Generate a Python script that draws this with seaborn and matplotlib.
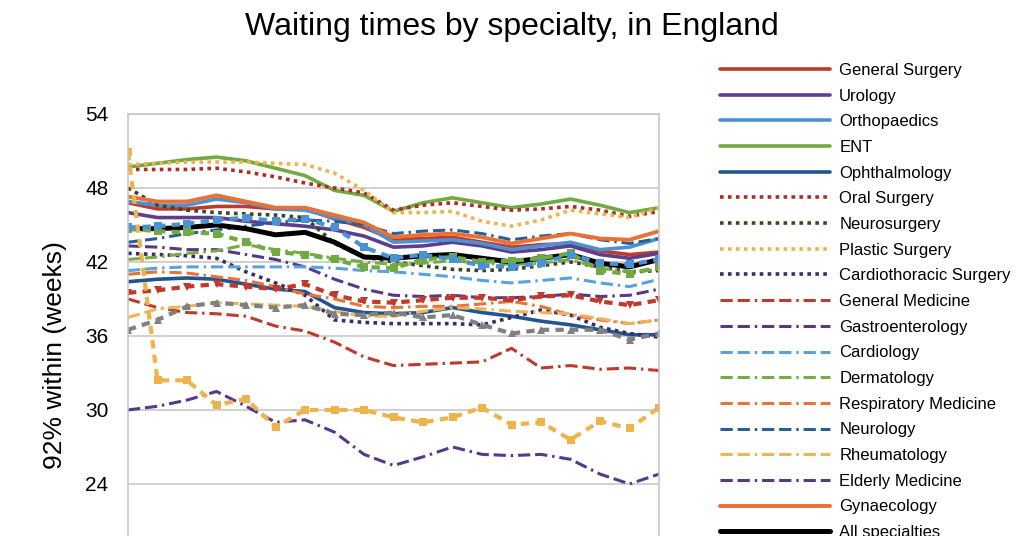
import numpy as np
import matplotlib
matplotlib.use("Agg")
import matplotlib.pyplot as plt
import seaborn as sns

# 19 reporting periods (x labels are cut off in the source image)
periods = np.arange(19)

general_surgery = [46.8, 46.3, 46.3, 46.5, 46.5, 46.3, 46.3, 45.5, 44.8, 43.8, 43.9, 44.0, 43.6, 43.2, 43.4, 43.5, 42.9, 42.6, 42.8]
urology = [46.0, 45.6, 45.6, 45.6, 45.3, 45.1, 44.9, 44.6, 44.1, 43.2, 43.3, 43.6, 43.3, 42.8, 43.0, 43.3, 42.6, 42.3, 42.7]
orthopaedics = [46.9, 46.6, 46.6, 47.1, 46.8, 46.3, 46.2, 45.6, 45.0, 43.6, 43.7, 43.8, 43.5, 43.0, 43.3, 43.6, 43.0, 43.2, 43.9]
ent = [49.7, 50.0, 50.3, 50.5, 50.2, 49.6, 49.0, 47.8, 47.4, 46.1, 46.8, 47.2, 46.8, 46.4, 46.7, 47.1, 46.6, 46.0, 46.4]
ophthalmology = [40.4, 40.6, 40.7, 40.6, 40.2, 39.8, 39.6, 38.3, 37.9, 37.8, 37.9, 38.3, 37.9, 37.6, 37.2, 36.9, 36.5, 36.1, 36.1]
oral_surgery = [49.5, 49.5, 49.5, 49.6, 49.3, 48.9, 48.4, 48.0, 47.6, 46.2, 46.6, 46.8, 46.5, 46.2, 46.3, 46.5, 46.2, 45.7, 46.1]
neurosurgery = [48.0, 46.6, 46.2, 46.0, 45.9, 45.8, 45.6, 43.5, 42.4, 42.0, 41.7, 41.4, 41.3, 41.4, 41.7, 42.0, 41.6, 41.2, 41.3]
plastic_surgery = [49.9, 50.0, 50.1, 50.1, 50.1, 50.0, 49.9, 49.2, 47.8, 46.0, 46.0, 46.1, 45.3, 44.9, 45.4, 46.2, 45.9, 45.6, 46.4]
cardiothoracic = [42.7, 42.6, 42.5, 42.3, 41.2, 40.3, 39.3, 37.3, 37.1, 37.0, 37.0, 37.0, 36.9, 37.5, 38.1, 37.7, 36.7, 36.2, 35.9]
general_medicine = [39.0, 38.3, 37.9, 37.8, 37.6, 36.8, 36.4, 35.5, 34.3, 33.6, 33.7, 33.8, 33.9, 35.0, 33.4, 33.6, 33.3, 33.4, 33.2]
gastroenterology = [43.3, 43.2, 43.0, 43.0, 42.6, 42.2, 41.6, 40.6, 39.8, 39.3, 39.2, 39.3, 39.1, 39.1, 39.2, 39.4, 39.2, 39.3, 39.8]
cardiology = [41.3, 41.5, 41.6, 41.6, 41.6, 41.6, 41.6, 41.5, 41.3, 41.2, 41.0, 40.8, 40.5, 40.3, 40.5, 40.7, 40.3, 40.0, 40.6]
dermatology = [42.2, 42.4, 42.7, 42.9, 43.4, 43.0, 42.7, 42.3, 42.0, 41.8, 41.9, 42.1, 41.9, 41.8, 41.9, 42.2, 41.5, 41.2, 41.4]
respiratory = [41.0, 41.2, 41.1, 40.8, 40.5, 40.0, 39.4, 39.0, 38.4, 38.3, 38.4, 38.4, 38.6, 38.8, 38.4, 37.7, 37.3, 37.0, 37.3]
neurology = [43.6, 43.9, 44.3, 44.6, 44.9, 45.2, 45.4, 45.3, 45.0, 44.3, 44.5, 44.6, 44.3, 43.8, 44.1, 44.3, 43.8, 43.5, 43.9]
rheumatology = [37.5, 38.2, 38.4, 38.7, 38.6, 38.5, 38.4, 38.0, 37.6, 37.6, 38.0, 38.3, 38.2, 38.0, 37.9, 37.8, 37.4, 37.0, 37.3]
elderly_medicine = [30.0, 30.3, 30.8, 31.5, 30.3, 29.0, 29.2, 28.2, 26.4, 25.5, 26.2, 27.0, 26.4, 26.3, 26.4, 26.0, 24.8, 24.0, 24.8]
gynaecology = [47.3, 46.9, 46.9, 47.4, 46.9, 46.4, 46.4, 45.8, 45.2, 44.0, 44.2, 44.3, 44.0, 43.5, 43.9, 44.3, 43.9, 43.8, 44.5]
all_specialties = [44.7, 44.7, 44.8, 45.0, 44.7, 44.2, 44.4, 43.6, 42.4, 42.3, 42.5, 42.6, 42.3, 42.0, 42.3, 42.6, 41.9, 41.6, 42.2]

# series with markers whose legend entries fall below the visible area
extra_red = [39.5, 39.7, 40.0, 40.2, 40.0, 39.8, 40.2, 39.3, 38.8, 38.7, 38.9, 39.1, 39.1, 38.9, 39.2, 39.3, 38.8, 38.5, 38.9]
extra_green = [44.7, 44.5, 44.4, 44.3, 43.6, 42.8, 42.6, 42.2, 41.6, 41.5, 42.2, 42.4, 42.0, 42.1, 42.3, 42.7, 41.3, 41.0, 41.6]
extra_blue = [44.8, 44.9, 45.1, 45.4, 45.6, 45.3, 45.5, 44.8, 43.2, 42.3, 42.6, 42.2, 41.7, 41.6, 41.9, 42.6, 41.9, 41.8, 42.2]
extra_grey = [36.5, 37.3, 38.4, 38.7, 38.5, 38.3, 38.5, 37.8, 37.7, 37.9, 37.5, 37.7, 36.9, 36.2, 36.5, 36.5, 36.5, 35.7, 36.2]
extra_orange = [50.9, 32.4, 32.4, 30.4, 30.9, 28.6, 30.0, 30.0, 30.0, 29.4, 29.0, 29.4, 30.2, 28.8, 29.0, 27.6, 29.1, 28.5, 30.2]

SOLID = "-"
DOT = (0, (1, 1.2))
DASHDOT = (0, (4, 1.6, 4, 1.6, 0.8, 1.6))

# label, values, colour, style, width
series = [
    ("General Surgery", general_surgery, "#c0392b", SOLID, 2.6),
    ("Urology", urology, "#5e3c8e", SOLID, 2.6),
    ("Orthopaedics", orthopaedics, "#4a93d3", SOLID, 2.6),
    ("ENT", ent, "#70aa40", SOLID, 2.6),
    ("Ophthalmology", ophthalmology, "#21558f", SOLID, 2.6),
    ("Oral Surgery", oral_surgery, "#b02a2a", DOT, 2.6),
    ("Neurosurgery", neurosurgery, "#3a4624", DOT, 2.6),
    ("Plastic Surgery", plastic_surgery, "#f0b24a", DOT, 2.6),
    ("Cardiothoracic Surgery", cardiothoracic, "#3b2b6b", DOT, 2.6),
    ("General Medicine", general_medicine, "#c0392b", DASHDOT, 2.2),
    ("Gastroenterology", gastroenterology, "#553a8a", DASHDOT, 2.2),
    ("Cardiology", cardiology, "#5aa2dc", DASHDOT, 2.2),
    ("Dermatology", dermatology, "#76ac42", DASHDOT, 2.2),
    ("Respiratory Medicine", respiratory, "#e8743b", DASHDOT, 2.2),
    ("Neurology", neurology, "#2a5f96", DASHDOT, 2.2),
    ("Rheumatology", rheumatology, "#eeb45a", DASHDOT, 2.2),
    ("Elderly Medicine", elderly_medicine, "#553a8a", DASHDOT, 2.2),
    ("Gynaecology", gynaecology, "#ea7035", SOLID, 2.8),
    ("All specialties", all_specialties, "#000000", SOLID, 3.6),
]

extras = [
    (extra_red, "#c0392b", "v"),
    (extra_green, "#70aa40", "s"),
    (extra_blue, "#4a93d3", "s"),
    (extra_grey, "#808080", "^"),
    (extra_orange, "#f0b24a", "s"),
]

sns.set_style("white")
plt.rcParams["font.family"] = ["Liberation Sans", "DejaVu Sans"]
plt.rcParams["text.color"] = "black"

fig = plt.figure(figsize=(10.24, 5.36), dpi=100)
ax = fig.add_axes([0.125, -0.041, 0.5186, 0.8284])

handles = []
for label, values, color, style, lw in series:
    sns.lineplot(x=periods, y=values, ax=ax, color=color, linestyle=style,
                 linewidth=lw, label=label, dash_capstyle="butt")
    handles.append(ax.lines[-1])

for values, color, marker in extras:
    sns.lineplot(x=periods, y=values, ax=ax, color=color, linestyle=(0, (2, 1.5)),
                 linewidth=3, marker=marker, markersize=6, markeredgewidth=0)

ax.set_xlim(0, 18)
ax.set_ylim(18, 54)
ax.set_yticks([24, 30, 36, 42, 48, 54])
ax.set_xticks([])
ax.grid(axis="y", color="#c4c4c4", linewidth=1.1)
ax.set_axisbelow(True)
for side in ["left", "right", "top", "bottom"]:
    ax.spines[side].set_color("#c4c4c4")
    ax.spines[side].set_linewidth(1.1)
ax.tick_params(axis="y", labelsize=15, length=7, width=1.1, color="#c4c4c4",
               labelcolor="black", pad=7)
ax.set_xlabel("")
ax.set_ylabel("92% within (weeks)", fontsize=19, color="black")
ax.yaxis.set_label_coords(-0.115, 0.457)

fig.text(0.5, 0.95, "Waiting times by specialty, in England", ha="center", va="center",
         fontsize=23, color="black")

leg = ax.legend(handles=handles, labels=[s[0] for s in series], loc="upper left",
                bbox_to_anchor=(720 / 1024, 1 - 63 / 536), bbox_transform=fig.transFigure,
                frameon=False, fontsize=12, handlelength=6.6, handletextpad=0.55,
                labelspacing=0.64, borderpad=0, borderaxespad=0)
for t in leg.get_texts():
    t.set_color("black")

fig.savefig("out.png", dpi=100)
